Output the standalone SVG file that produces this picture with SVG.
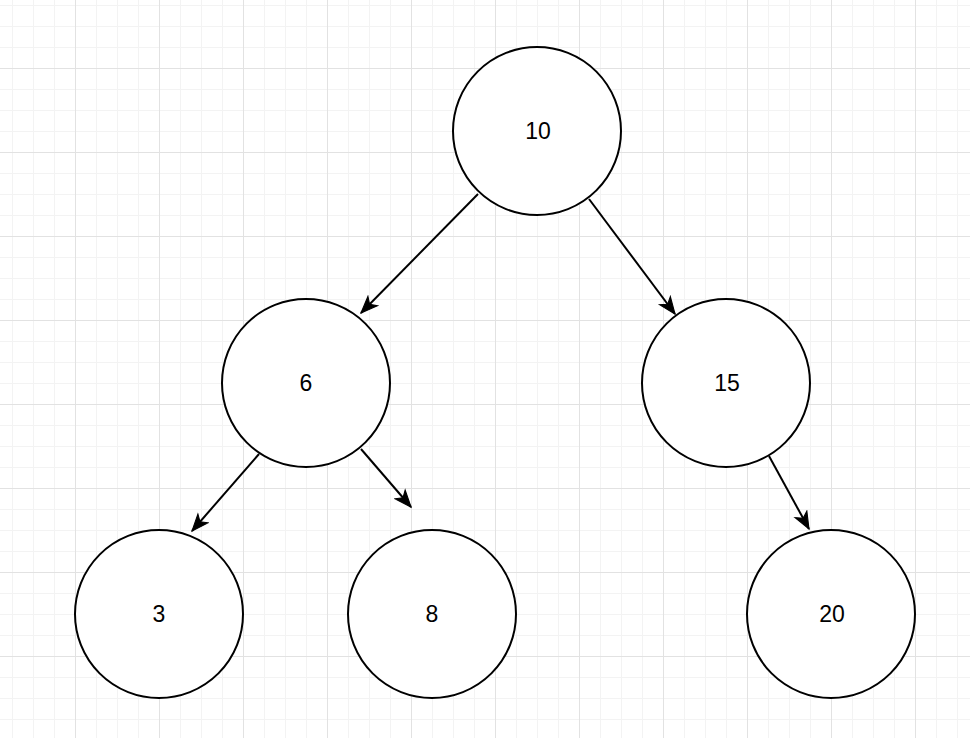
<svg xmlns="http://www.w3.org/2000/svg" width="970" height="738" viewBox="0 0 970 738">
<defs>
<pattern id="minor" x="12" y="5" width="21" height="21" patternUnits="userSpaceOnUse">
<path d="M0.5,0 V21 M0,0.5 H21" fill="none" stroke="#f3f3f3" stroke-width="1"/>
</pattern>
<pattern id="major" x="75" y="68" width="84" height="84" patternUnits="userSpaceOnUse">
<path d="M0.5,0 V84 M0,0.5 H84" fill="none" stroke="#e2e2e2" stroke-width="1"/>
</pattern>
<marker id="arrow" markerUnits="userSpaceOnUse" markerWidth="20" markerHeight="20" viewBox="-16 -8 18 16" refX="0" refY="0" orient="auto">
<path d="M0,0 L-15,-6 L-11,0 L-15,6 Z" fill="#000" stroke="#000" stroke-width="1"/>
</marker>
</defs>
<style>
.node circle { fill: #fff; stroke: #000; stroke-width: 2; }
.node text { font-family: "Liberation Sans", Arial, sans-serif; font-size: 23px; fill: #000; text-anchor: middle; }
.edges line { stroke: #000; stroke-width: 2; marker-end: url(#arrow); }
</style>
<rect width="970" height="738" fill="#fff"/>
<rect width="970" height="738" fill="url(#minor)"/>
<rect width="970" height="738" fill="url(#major)"/>
<g id="edges" class="edges">
<line x1="478" y1="194" x2="361" y2="313"/>
<line x1="589" y1="199" x2="675" y2="314"/>
<line x1="259" y1="454" x2="192" y2="531"/>
<line x1="361" y1="449" x2="411" y2="507"/>
<line x1="769" y1="456" x2="809" y2="529"/>
</g>
<g id="node-10" class="node"><circle cx="537" cy="131" r="84"/><text x="538" y="139">10</text></g>
<g id="node-6" class="node"><circle cx="306" cy="383" r="84"/><text x="306" y="391">6</text></g>
<g id="node-15" class="node"><circle cx="726" cy="383" r="84"/><text x="727" y="391">15</text></g>
<g id="node-3" class="node"><circle cx="159" cy="614" r="84"/><text x="159" y="622">3</text></g>
<g id="node-8" class="node"><circle cx="432" cy="614" r="84"/><text x="432" y="622">8</text></g>
<g id="node-20" class="node"><circle cx="831" cy="614" r="84"/><text x="832" y="622">20</text></g>
</svg>
